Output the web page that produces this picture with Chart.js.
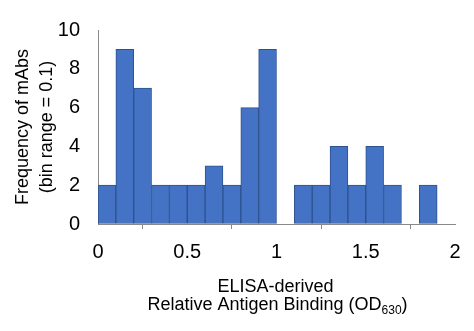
<!DOCTYPE html>
<html>
<head>
<meta charset="utf-8">
<script src="https://cdn.jsdelivr.net/npm/chart.js@4.4.1/dist/chart.umd.min.js"></script>
<style>
  html, body { margin: 0; padding: 0; background: #ffffff; }
  #wrap { width: 474px; height: 331px; }
</style>
</head>
<body>
<div id="wrap"><canvas id="c" width="474" height="331"></canvas></div>
<script>
// Histogram bins (lower edge of each 0.1-wide bin) and their counts
const binStarts = [0.0, 0.1, 0.2, 0.3, 0.4, 0.5, 0.6, 0.7, 0.8, 0.9, 1.0, 1.1, 1.2, 1.3, 1.4, 1.5, 1.6, 1.7, 1.8];
const binWidth = 0.1;
const counts    = [2,   9,   7,   2,   2,   2,   3,   2,   6,   9,   0,   2,   2,   4,   2,   4,   2,   0,   2];
const xTickLabels = ['0', '0.5', '1', '1.5', '2'];
const yTickLabels = ['0', '2', '4', '6', '8', '10'];
const yTitle = ['Frequency of mAbs', '(bin range = 0.1)'];
const xTitleLine1 = 'ELISA-derived';
const xTitleLine2 = 'Relative Antigen Binding (OD';
const xTitleSub = '630';
const xTitleEnd = ')';

const FONT = '"Liberation Sans", Arial, sans-serif';
const AXIS_GRAY = '#8a8a8a';

const points = binStarts.map((s, i) => ({ x: +(s + binWidth / 2).toFixed(2), y: counts[i] }));

const xTitlePlugin = {
  id: 'xTitle',
  afterDraw(chart) {
    const ctx = chart.ctx;
    const area = chart.chartArea;
    const cx = (area.left + area.right) / 2;
    ctx.save();
    ctx.fillStyle = '#000';
    ctx.textBaseline = 'alphabetic';
    ctx.font = '18px ' + FONT;
    // line 1
    const w1 = ctx.measureText(xTitleLine1).width;
    ctx.textAlign = 'left';
    ctx.fillText(xTitleLine1, cx - w1 / 2 - 1, 292);
    // line 2 with subscript
    const mainW = ctx.measureText(xTitleLine2).width;
    const endW = ctx.measureText(xTitleEnd).width;
    ctx.font = '12px ' + FONT;
    const subW = ctx.measureText(xTitleSub).width;
    const total = mainW + subW + endW;
    let x = cx - total / 2 + 1;
    ctx.font = '18px ' + FONT;
    ctx.fillText(xTitleLine2, x, 310);
    x += mainW;
    ctx.font = '12px ' + FONT;
    ctx.fillText(xTitleSub, x, 314);
    x += subW;
    ctx.font = '18px ' + FONT;
    ctx.fillText(xTitleEnd, x, 310);
    ctx.restore();
  }
};

new Chart(document.getElementById('c'), {
  type: 'bar',
  data: {
    datasets: [{
      data: points,
      backgroundColor: '#4472C4',
      borderColor: '#2F528F',
      borderWidth: 1,
      borderSkipped: false,
      barPercentage: 1.0,
      categoryPercentage: 1.0
    }]
  },
  options: {
    responsive: false,
    animation: false,
    devicePixelRatio: 1,
    layout: { padding: { left: 0, right: 19, top: 27, bottom: 0 } },
    plugins: {
      legend: { display: false },
      tooltip: { enabled: false }
    },
    scales: {
      x: {
        type: 'linear',
        min: 0,
        max: 2,
        offset: false,
        afterFit(scale) { scale.height = 331 - 224; },
        afterBuildTicks(scale) {
          scale.ticks = xTickLabels.map(t => ({ value: parseFloat(t) }));
        },
        ticks: {
          autoSkip: false,
          maxRotation: 0,
          padding: 11,
          color: '#000',
          font: { family: FONT, size: 20 },
          callback: (v) => xTickLabels.find(t => parseFloat(t) === v) ?? ''
        },
        grid: {
          display: true,
          drawOnChartArea: false,
          drawTicks: true,
          tickLength: 5,
          color: AXIS_GRAY,
          lineWidth: 1
        },
        border: { display: true, color: AXIS_GRAY, width: 1 }
      },
      y: {
        min: 0,
        max: 10,
        afterFit(scale) { scale.width = 98; },
        afterBuildTicks(scale) {
          scale.ticks = yTickLabels.map(t => ({ value: parseFloat(t) }));
        },
        ticks: {
          padding: 18,
          color: '#000',
          font: { family: FONT, size: 20 },
          callback: (v) => yTickLabels.find(t => parseFloat(t) === v) ?? ''
        },
        grid: { display: true, drawOnChartArea: false, drawTicks: false },
        border: { display: true, color: AXIS_GRAY, width: 1 },
        title: {
          display: true,
          text: yTitle,
          color: '#000',
          font: { family: FONT, size: 18, lineHeight: 1.28 },
          padding: { top: 12, bottom: 0 }
        }
      }
    }
  },
  plugins: [xTitlePlugin]
});
</script>
</body>
</html>
